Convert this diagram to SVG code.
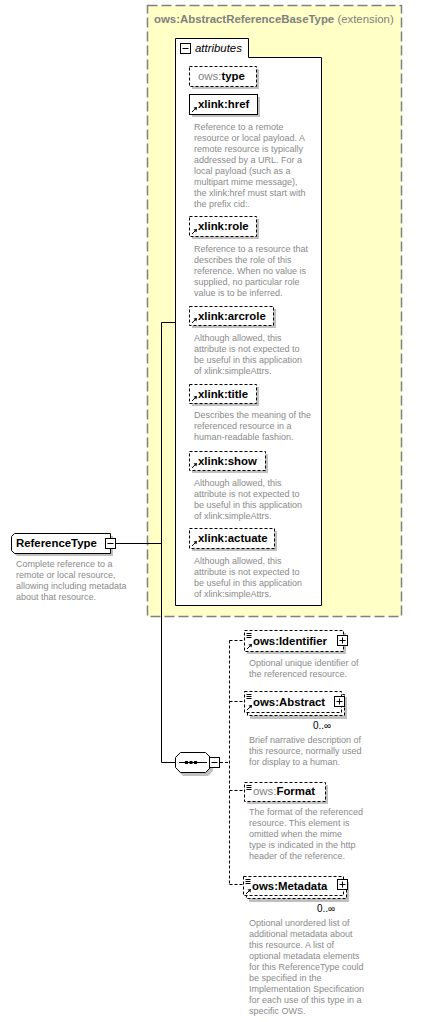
<svg xmlns="http://www.w3.org/2000/svg" width="445" height="1022" viewBox="0 0 445 1022">
<defs>
<style>
.lbl{font-family:"Liberation Sans",Arial,sans-serif;font-size:11.4px;font-weight:bold;fill:#000}
.pre{font-weight:normal;fill:#808080}
.desc{font-family:"Liberation Sans",Arial,sans-serif;font-size:9px;fill:#8a8a8a}
.occ{font-family:"Liberation Sans",Arial,sans-serif;font-size:10px;fill:#000}
.hdr{font-family:"Liberation Sans",Arial,sans-serif;font-size:11.4px;fill:#808080}
.sh{fill:#c0c0c0}
.box{fill:#fff;stroke:#000;stroke-width:1}
.dbox{fill:#fff;stroke:#000;stroke-width:1;stroke-dasharray:3,2}
.ln{stroke:#000;stroke-width:1;fill:none}
.dln{stroke:#000;stroke-width:1;fill:none;stroke-dasharray:3,2}
.icon{fill:#fff;stroke:#000;stroke-width:1}
</style>
</defs>

<g id="base-type">
<rect x="147.5" y="5.5" width="254" height="611" fill="#ffffc6" stroke="#808080" stroke-width="1.5" stroke-dasharray="10,4"/>
<text class="hdr" x="154" y="23"><tspan font-weight="bold">ows:AbstractReferenceBaseType</tspan> (extension)</text>
</g>

<g id="attributes">
<path d="M175.5,605.5 V38.5 H248.5 V57.5 H321.5 V605.5 Z" fill="#fff" stroke="#000"/>
<rect class="icon" x="180.5" y="43.5" width="10" height="10"/>
<path class="ln" d="M182.5,48.5 H188.5"/>
<text x="195" y="52" font-family="'Liberation Sans',Arial,sans-serif" font-size="11.4" font-style="italic">attributes</text>
</g>

<g id="attr-type">
<rect class="sh" x="192" y="69" width="67" height="20"/>
<rect class="dbox" x="189.5" y="66.5" width="67" height="20"/>
<text class="lbl" x="198" y="80"><tspan class="pre">ows:</tspan>type</text>
</g>

<g id="attr-href">
<rect class="sh" x="192" y="97" width="68" height="20"/>
<rect class="box" x="189.5" y="94.5" width="68" height="20"/>
<path class="ln" d="M192,112 L196,108"/><path d="M197,107 L193.5,107.5 L196.5,110.5 Z" fill="#000"/>
<text class="lbl" x="198" y="108">xlink:href</text>
<text class="desc" y="130"><tspan x="194">Reference to a remote</tspan><tspan x="194" dy="11">resource or local payload. A</tspan><tspan x="194" dy="11">remote resource is typically</tspan><tspan x="194" dy="11">addressed by a URL. For a</tspan><tspan x="194" dy="11">local payload (such as a</tspan><tspan x="194" dy="11">multipart mime message),</tspan><tspan x="194" dy="11">the xlink:href must start with</tspan><tspan x="194" dy="11">the prefix cid:.</tspan></text>
</g>

<g id="attr-role">
<rect class="sh" x="192" y="219" width="67" height="20"/>
<rect class="dbox" x="189.5" y="216.5" width="67" height="20"/>
<path class="ln" d="M192,234 L196,230"/><path d="M197,229 L193.5,229.5 L196.5,232.5 Z" fill="#000"/>
<text class="lbl" x="198" y="230">xlink:role</text>
<text class="desc" y="252"><tspan x="194">Reference to a resource that</tspan><tspan x="194" dy="11">describes the role of this</tspan><tspan x="194" dy="11">reference. When no value is</tspan><tspan x="194" dy="11">supplied, no particular role</tspan><tspan x="194" dy="11">value is to be inferred.</tspan></text>
</g>

<g id="attr-arcrole">
<rect class="sh" x="192" y="309" width="84" height="19"/>
<rect class="dbox" x="189.5" y="306.5" width="84" height="19"/>
<path class="ln" d="M192,323 L196,319"/><path d="M197,318 L193.5,318.5 L196.5,321.5 Z" fill="#000"/>
<text class="lbl" x="198" y="320">xlink:arcrole</text>
<text class="desc" y="341"><tspan x="194">Although allowed, this</tspan><tspan x="194" dy="11">attribute is not expected to</tspan><tspan x="194" dy="11">be useful in this application</tspan><tspan x="194" dy="11">of xlink:simpleAttrs.</tspan></text>
</g>

<g id="attr-title">
<rect class="sh" x="192" y="387" width="67" height="19"/>
<rect class="dbox" x="189.5" y="384.5" width="67" height="19"/>
<path class="ln" d="M192,401 L196,397"/><path d="M197,396 L193.5,396.5 L196.5,399.5 Z" fill="#000"/>
<text class="lbl" x="198" y="398">xlink:title</text>
<text class="desc" y="418"><tspan x="194">Describes the meaning of the</tspan><tspan x="194" dy="11">referenced resource in a</tspan><tspan x="194" dy="11">human-readable fashion.</tspan></text>
</g>

<g id="attr-show">
<rect class="sh" x="192" y="454" width="76" height="19"/>
<rect class="dbox" x="189.5" y="451.5" width="76" height="19"/>
<path class="ln" d="M192,468 L196,464"/><path d="M197,463 L193.5,463.5 L196.5,466.5 Z" fill="#000"/>
<text class="lbl" x="198" y="465">xlink:show</text>
<text class="desc" y="486"><tspan x="194">Although allowed, this</tspan><tspan x="194" dy="11">attribute is not expected to</tspan><tspan x="194" dy="11">be useful in this application</tspan><tspan x="194" dy="11">of xlink:simpleAttrs.</tspan></text>
</g>

<g id="attr-actuate">
<rect class="sh" x="192" y="531" width="85" height="20"/>
<rect class="dbox" x="189.5" y="528.5" width="85" height="20"/>
<path class="ln" d="M192,546 L196,542"/><path d="M197,541 L193.5,541.5 L196.5,544.5 Z" fill="#000"/>
<text class="lbl" x="198" y="542">xlink:actuate</text>
<text class="desc" y="564"><tspan x="194">Although allowed, this</tspan><tspan x="194" dy="11">attribute is not expected to</tspan><tspan x="194" dy="11">be useful in this application</tspan><tspan x="194" dy="11">of xlink:simpleAttrs.</tspan></text>
</g>

<g id="connectors">
<path class="ln" d="M115,543.5 H161.5"/>
<path class="ln" d="M161.5,322.5 V762.5"/>
<path class="ln" d="M161.5,322.5 H175.5"/>
<path class="ln" d="M161.5,762.5 H175"/>
<path class="dln" d="M220,762.5 H229.5"/>
<path class="dln" d="M229.5,640.5 V884.5"/>
<path class="dln" d="M229.5,640.5 H244"/>
<path class="dln" d="M229.5,701.5 H244"/>
<path class="dln" d="M229.5,790.5 H244"/>
<path class="dln" d="M229.5,884.5 H243"/>
</g>

<g id="ReferenceType">
<path class="sh" d="M17,536 H113 V556 H17 L14,553 V539 Z"/>
<path d="M14.5,533.5 H110.5 V553.5 H14.5 L11.5,550.5 V536.5 Z" fill="#fff" stroke="#000"/>
<text class="lbl" x="16" y="547">ReferenceType</text>
<rect class="icon" x="105.5" y="538.5" width="10" height="10"/>
<path class="ln" d="M107.5,543.5 H113.5"/>
<text class="desc" y="567"><tspan x="16">Complete reference to a</tspan><tspan x="16" dy="11">remote or local resource,</tspan><tspan x="16" dy="11">allowing including metadata</tspan><tspan x="16" dy="11">about that resource.</tspan></text>
</g>

<g id="sequence">
<path class="sh" d="M183,755 H208 L213,760 V771 L208,776 H183 L178,771 V760 Z"/>
<path d="M180.5,752.5 H205.5 L210.5,757.5 V767.5 L205.5,772.5 H180.5 L175.5,767.5 V757.5 Z" fill="#fff" stroke="#000"/>
<path class="ln" d="M179,762.5 H207"/>
<rect x="185" y="761" width="3" height="3"/><rect x="189.5" y="761" width="3" height="3"/><rect x="194" y="761" width="3" height="3"/>
<rect class="icon" x="209.5" y="757.5" width="10" height="10"/>
<path class="ln" d="M211.5,762.5 H217.5"/>
</g>

<g id="Identifier">
<rect class="sh" x="247" y="633" width="99" height="21"/>
<rect class="dbox" x="244.5" y="630.5" width="99" height="21"/>
<path class="ln" d="M246.5,633.5 H251.5 M246.5,635.5 H251.5 M246.5,637.5 H251.5"/>
<path class="ln" d="M247,649 L251,645"/><path d="M252,644 L248.5,644.5 L251.5,647.5 Z" fill="#000"/>
<text class="lbl" x="253" y="645">ows:Identifier</text>
<rect class="icon" x="337.5" y="635.5" width="10" height="10"/>
<path class="ln" d="M339.5,640.5 H345.5 M342.5,637.5 V643.5"/>
<text class="desc" y="666"><tspan x="249">Optional unique identifier of</tspan><tspan x="249" dy="11">the referenced resource.</tspan></text>
</g>

<g id="Abstract">
<rect class="sh" x="250" y="697" width="97" height="22"/>
<rect class="dbox" x="247.5" y="694.5" width="97" height="21"/>
<rect class="dbox" x="244.5" y="691.5" width="97" height="21"/>
<path class="ln" d="M246.5,694.5 H251.5 M246.5,696.5 H251.5 M246.5,698.5 H251.5"/>
<path class="ln" d="M247,710 L251,706"/><path d="M252,705 L248.5,705.5 L251.5,708.5 Z" fill="#000"/>
<text class="lbl" x="253" y="706">ows:Abstract</text>
<rect class="icon" x="334.5" y="696.5" width="10" height="10"/>
<path class="ln" d="M336.5,701.5 H342.5 M339.5,698.5 V704.5"/>
<text class="occ" x="313" y="729">0..∞</text>
<text class="desc" y="743"><tspan x="249">Brief narrative description of</tspan><tspan x="249" dy="11">this resource, normally used</tspan><tspan x="249" dy="11">for display to a human.</tspan></text>
</g>

<g id="Format">
<rect class="sh" x="247" y="785" width="81" height="19"/>
<rect class="dbox" x="244.5" y="782.5" width="81" height="19"/>
<path class="ln" d="M246.5,785.5 H251.5 M246.5,787.5 H251.5 M246.5,789.5 H251.5"/>
<text class="lbl" x="253" y="795"><tspan class="pre">ows:</tspan>Format</text>
<text class="desc" y="815"><tspan x="249">The format of the referenced</tspan><tspan x="249" dy="11">resource. This element is</tspan><tspan x="249" dy="11">omitted when the mime</tspan><tspan x="249" dy="11">type is indicated in the http</tspan><tspan x="249" dy="11">header of the reference.</tspan></text>
</g>

<g id="Metadata">
<rect class="sh" x="249" y="882" width="100" height="20"/>
<rect class="dbox" x="246.5" y="879.5" width="100" height="19"/>
<rect class="dbox" x="243.5" y="876.5" width="100" height="19"/>
<path class="ln" d="M245.5,879.5 H250.5 M245.5,881.5 H250.5 M245.5,883.5 H250.5"/>
<path class="ln" d="M246,894 L250,890"/><path d="M251,889 L247.5,889.5 L250.5,892.5 Z" fill="#000"/>
<text class="lbl" x="252" y="890">ows:Metadata</text>
<rect class="icon" x="337.5" y="879.5" width="10" height="10"/>
<path class="ln" d="M339.5,884.5 H345.5 M342.5,881.5 V887.5"/>
<text class="occ" x="317" y="912">0..∞</text>
<text class="desc" y="926"><tspan x="249">Optional unordered list of</tspan><tspan x="249" dy="11">additional metadata about</tspan><tspan x="249" dy="11">this resource. A list of</tspan><tspan x="249" dy="11">optional metadata elements</tspan><tspan x="249" dy="11">for this ReferenceType could</tspan><tspan x="249" dy="11">be specified in the</tspan><tspan x="249" dy="11">Implementation Specification</tspan><tspan x="249" dy="11">for each use of this type in a</tspan><tspan x="249" dy="11">specific OWS.</tspan></text>
</g>
</svg>
